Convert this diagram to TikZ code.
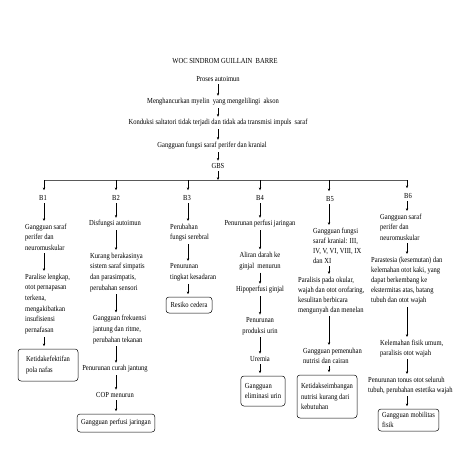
\documentclass[tikz,border=0pt]{standalone}
\usepackage{fontspec}
\setmainfont[FakeStretch=0.85]{Liberation Serif}
\usetikzlibrary{arrows.meta}
\begin{document}
\begin{tikzpicture}[x=1pt,y=-1pt,
  every node/.style={font=\fontsize{7.7}{10.7}\selectfont, inner sep=0pt},
  txt/.style={anchor=north west, align=left},
  ctr/.style={anchor=center, align=center},
  box/.style={draw, rounded corners=3pt, inner xsep=4pt, inner ysep=3pt, line width=0.5pt},
  arr/.style={-{Stealth[length=2.8pt,width=2.4pt]}, line width=0.45pt, shorten <=2.5pt, shorten >=2.5pt},
  drop/.style={-{Stealth[length=2.8pt,width=2.4pt]}, line width=0.45pt, shorten >=5pt},
  bus/.style={line width=1pt, draw=black!65}
]
\useasboundingbox (0,0) rectangle (453,453);
% column coordinates
\coordinate (mx) at (218,0);
\coordinate (c1) at (44,0);
\coordinate (c2) at (116,0);
\coordinate (c3) at (188,0);
\coordinate (c4) at (260,0);
\coordinate (c5) at (329,0);
\coordinate (c6) at (407,0);
\coordinate (L) at (44,180);
\coordinate (R) at (407,180);

% top chain
\node[ctr] (title) at (225,61) {WOC SINDROM GUILLAIN\ \ BARRE};
\node[ctr] (p1) at (218,79) {Proses autoimun};
\node[ctr] (p2) at (213,102) {Menghancurkan myelin\ \ yang mengelilingi\ \ akson};
\node[ctr] (p3) at (218,123) {Konduksi saltatori tidak terjadi dan tidak ada transmisi impuls\ \ saraf};
\node[ctr] (p4) at (212,146) {Gangguan fungsi saraf perifer dan kranial};
\node[ctr] (gbs) at (218,166) {GBS};
\draw[arr] (p1.south -| mx) -- (p2.north -| mx);
\draw[arr] (p2.south -| mx) -- (p3.north -| mx);
\draw[arr] (p3.south -| mx) -- (p4.north -| mx);
\draw[arr] (p4.south -| mx) -- (gbs.north -| mx);
\draw[bus] (L) -- (R);
\draw[arr, shorten >=0pt] (gbs.south -| mx) -- (mx |- L);

% B labels
\node[ctr] (B1) at (43,198) {B1};
\node[ctr] (B2) at (116,198) {B2};
\node[ctr] (B3) at (187,198) {B3};
\node[ctr] (B4) at (260,198) {B4};
\node[ctr] (B5) at (330,199) {B5};
\node[ctr] (B6) at (408,196) {B6};
\draw[drop] (c1 |- L) -- (B1.north -| c1);
\draw[drop] (c2 |- L) -- (B2.north -| c2);
\draw[drop] (c3 |- L) -- (B3.north -| c3);
\draw[drop] (c4 |- L) -- (B4.north -| c4);
\draw[drop] (c5 |- L) -- (B5.north -| c5);
\draw[drop] (c6 |- L) -- (B6.north -| c6);

% B1
\node[txt] (b1a) at (25,223.5) {Gangguan saraf\\perifer dan\\neuromuskular};
\node[txt] (b1b) at (25,273.5) {Paralise lengkap,\\otot pernapasan\\terkena,\\mengakibatkan\\insufisiensi\\pernafasan};
\node[box, align=left, minimum width=60pt, minimum height=32pt] (b1x) at (48,365) {Ketidakefektifan\\pola nafas};
\draw[arr] (B1.south -| c1) -- (b1a.north -| c1);
\draw[arr] (b1a.south -| c1) -- (b1b.north -| c1);
\draw[arr] (b1b.south -| c1) -- (b1x.north -| c1);

% B2
\node[ctr] (b2a) at (115,224) {Disfungsi autoimun};
\node[txt] (b2b) at (90,252.5) {Kurang berakasinya\\sistem saraf simpatis\\dan parasimpatis,\\perubahan sensori};
\node[txt] (b2c) at (93,315) {Gangguan frekuensi\\jantung dan ritme,\\perubahan tekanan};
\node[ctr] (b2d) at (115,369) {Penurunan curah jantung};
\node[ctr] (b2e) at (115,395) {COP menurun};
\node[box, align=center, minimum width=74pt, minimum height=18pt] (b2x) at (116,423) {Gangguan perfusi jaringan};
\draw[arr] (B2.south -| c2) -- (b2a.north -| c2);
\draw[arr] (b2a.south -| c2) -- (b2b.north -| c2);
\draw[arr] (b2b.south -| c2) -- (b2c.north -| c2);
\draw[arr] (b2c.south -| c2) -- (b2d.north -| c2);
\draw[arr] (b2d.south -| c2) -- (b2e.north -| c2);
\draw[arr] (b2e.south -| c2) -- (b2x.north -| c2);

% B3
\node[txt] (b3a) at (170,223.5) {Perubahan\\fungsi serebral};
\node[txt] (b3b) at (170,263.5) {Penurunan\\tingkat kesadaran};
\node[box, align=center, minimum width=46pt, minimum height=16pt] (b3x) at (189,305) {Resiko cedera};
\draw[arr] (B3.south -| c3) -- (b3a.north -| c3);
\draw[arr] (b3a.south -| c3) -- (b3b.north -| c3);
\draw[arr] (b3b.south -| c3) -- (b3x.north -| c3);

% B4
\node[ctr] (b4a) at (260,224) {Penurunan perfusi jaringan};
\node[ctr] (b4b) at (260,261) {Aliran darah ke\\ginjal\ \ menurun};
\node[ctr] (b4c) at (260,290) {Hipoperfusi ginjal};
\node[ctr] (b4d) at (260,326) {Penurunan\\produksi urin};
\node[ctr] (b4e) at (260,359) {Uremia};
\node[box, align=left, minimum width=44pt, minimum height=30pt] (b4x) at (263,391) {Gangguan\\eliminasi urin};
\draw[arr] (B4.south -| c4) -- (b4a.north -| c4);
\draw[arr] (b4a.south -| c4) -- (b4b.north -| c4);
\draw[arr] (b4b.south -| c4) -- (b4c.north -| c4);
\draw[arr] (b4c.south -| c4) -- (b4d.north -| c4);
\draw[arr] (b4d.south -| c4) -- (b4e.north -| c4);
\draw[arr] (b4e.south -| c4) -- (b4x.north -| c4);

% B5
\node[txt, font=\fontsize{7.7}{10}\selectfont] (b5a) at (313,227.5) {Gangguan fungsi\\saraf kranial: III,\\IV, V, VI, VIII, IX\\dan XI};
\node[txt, font=\fontsize{7.7}{10}\selectfont] (b5b) at (298,276.5) {Paralisis pada okular,\\wajah dan otot orofaring,\\kesulitan berbicara\\mengunyah dan menelan};
\node[txt, font=\fontsize{7.7}{10}\selectfont] (b5c) at (303,347.5) {Gangguan pemenuhan\\nutrisi dan cairan};
\node[box, align=left, minimum width=60pt, minimum height=43pt] (b5x) at (327,396.5) {Ketidakseimbangan\\nutrisi kurang dari\\kebutuhan};
\draw[arr] (B5.south -| c5) -- (b5a.north -| c5);
\draw[arr] (b5a.south -| c5) -- (b5b.north -| c5);
\draw[arr] (b5b.south -| c5) -- (b5c.north -| c5);
\draw[arr] (b5c.south -| c5) -- (b5x.north -| c5);

% B6
\node[txt] (b6a) at (380,213.5) {Gangguan saraf\\perifer dan\\neuromuskular};
\node[txt, font=\fontsize{7.7}{10.2}\selectfont] (b6b) at (371,256.5) {Parastesia (kesemutan) dan\\kelemahan otot kaki, yang\\dapat berkembang ke\\ekstermitas atas, batang\\tubuh dan otot wajah};
\node[txt, font=\fontsize{7.7}{10}\selectfont] (b6c) at (380,339.5) {Kelemahan fisik umum,\\paralisis otot wajah};
\node[txt, font=\fontsize{7.7}{10}\selectfont] (b6d) at (368,376.5) {Penurunan tonus otot seluruh\\tubuh, perubahan estetika wajah};
\node[box, align=left, minimum width=53pt, minimum height=22pt, font=\fontsize{7.7}{9.5}\selectfont] (b6x) at (408.5,420) {Gangguan mobilitas\\fisik};
\draw[arr] (B6.south -| c6) -- (b6a.north -| c6);
\draw[arr] (b6a.south -| c6) -- (b6b.north -| c6);
\draw[arr] (b6b.south -| c6) -- (b6c.north -| c6);
\draw[arr] (b6c.south -| c6) -- (b6d.north -| c6);
\draw[arr] (b6d.south -| c6) -- (b6x.north -| c6);
\end{tikzpicture}
\end{document}
